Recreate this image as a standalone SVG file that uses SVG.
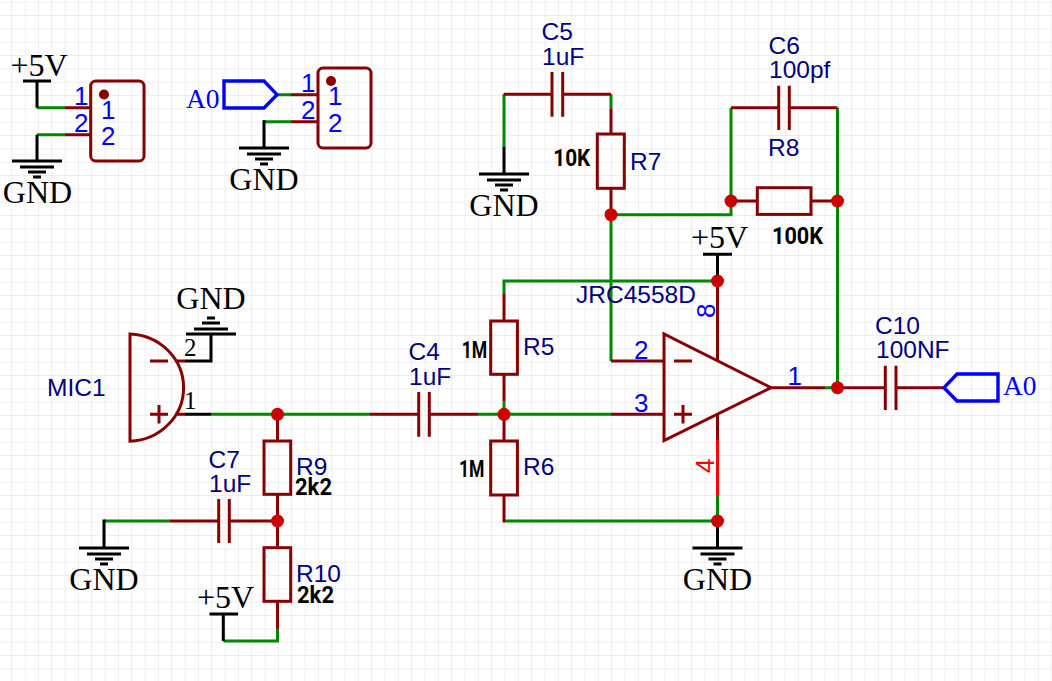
<svg xmlns="http://www.w3.org/2000/svg" width="1052" height="681" viewBox="0 0 1052 681">
<style>
.r{stroke:#880000;stroke-width:3;fill:none}
.g{stroke:#008800;stroke-width:3;fill:none}
.k{stroke:#000;stroke-width:3;fill:none}
.b{stroke:#0000ff;stroke-width:3.4;fill:none}
.e{stroke:#ff0000;stroke-width:3;fill:none}
.j{fill:#cc0000}
.pwr{font-family:"Liberation Serif",serif;font-size:32px;fill:#000}
.mc{text-anchor:middle}
.net{font-family:"Liberation Serif",serif;font-size:27.500px;fill:#0000ff}
.lab{font-family:"Liberation Sans",sans-serif;font-size:24.500px;fill:#000080}
.pin{font-family:"Liberation Sans",sans-serif;font-size:26px;fill:#0000ff}
.pk{font-family:"Liberation Serif",serif;font-size:25px;fill:#000}
.val{font-family:Roboto,"Liberation Sans",sans-serif;font-weight:700;font-size:24px;fill:#000}
</style>
<defs>
<pattern id="grid" x="11.3" y="1.7" width="13.333" height="13.333" patternUnits="userSpaceOnUse">
<path d="M0 0V13.333M0 0H13.333" fill="none" stroke="#e8e8e8" stroke-width="1.5"/>
</pattern>
<g id="gnd"><path class="k" d="M-25 0H25M-17 6H17M-9 11H9M-4 16H4"/></g>
<g id="gndup"><path class="k" d="M-25 0H25M-17 -5H17M-9 -11H9M-4 -16H4"/></g>
</defs>
<rect width="1052" height="681" fill="#fff"/>
<rect width="1052" height="681" fill="url(#grid)"/>
<g id="connectors">
<path class="g" d="M37 107.7H65M37 134.7H65"/>
<path class="k" d="M37 81V107.7M37 134.7V161"/>
<path class="g" d="M277 94.7H291M264 121.7H291"/>
<path class="k" d="M264 120.2V148"/>
<path class="k" d="M185 361H211V334M185 414.3H211"/>
<path class="g" d="M211 414.3H370M478 414.3H611"/>
<path class="g" d="M504 294V281H717.5M504 401.5V414.3M504 521H717.5"/>
<path class="r" d="M504 294V321M504 374.3V401.5M504 414.3V441M504 495V521H505"/>
<path class="r" d="M277.5 414.3V441M277.5 494.3V548M277.5 601.3V629"/>
<path class="g" d="M277.5 629V641H223.3"/>
<path class="k" d="M223.3 641V614"/>
<path class="g" d="M104 521H170"/>
<path class="k" d="M104 519.500V548"/>
<path class="g" d="M504 94.3V146.7M611 94.3V108.3"/>
<path class="k" d="M504 146.7V174"/>
<path class="r" d="M611 108.3V134M611 188.3V214.7"/>
<path class="g" d="M611 214.7V361M611 214.7H731V107.7M837.5 107.7V387.7M825 387.7H837.5"/>
<path class="k" d="M717.5 254V281"/>
<path class="r" d="M717.5 281V361M771 387.7H825M611 361H664M611 414.3H664M717.5 414.3V440"/>
<path class="e" d="M717.5 440V495"/>
<path class="g" d="M717.5 495V521"/>
<path class="k" d="M717.5 521V548"/>
</g>
<g id="P1">
<rect class="r" x="90.7" y="81" width="53.3" height="80" rx="5"/>
<circle cx="104" cy="94.5" r="5" fill="#880000"/>
<path class="r" d="M65 107.7H90.7M65 134.7H90.7"/>
<text class="pin" x="74" y="105">1</text><text class="pin" x="74" y="131.700">2</text>
<text class="pin" x="101" y="118.700">1</text><text class="pin" x="101" y="145">2</text>
</g>
<g id="P1-power">
<text class="pwr" x="10.500" y="75.700">+5V</text>
<path class="k" d="M23 81H51"/>
<use href="#gnd" x="37" y="161"/>
<text class="pwr mc" x="37.500" y="203">GND</text>
</g>
<g id="P2">
<rect class="r" x="318" y="68" width="53" height="80" rx="5"/>
<circle cx="331" cy="81" r="5" fill="#880000"/>
<path class="r" d="M291 94.7H318M291 121.7H318"/>
<text class="pin" x="301" y="91.700">1</text><text class="pin" x="301" y="119">2</text>
<text class="pin" x="328" y="105">1</text><text class="pin" x="328" y="132">2</text>
</g>
<g id="P2-net">
<path class="b" d="M224 81H264L277 94.7L264 108H224Z"/>
<text class="net" x="186" y="107.700">A0</text>
<use href="#gnd" x="264" y="148"/>
<text class="pwr mc" x="264" y="190">GND</text>
</g>
<g id="MIC1">
<path class="r" d="M130 334V441.3A56 53.7 0 0 0 130 334Z"/>
<path class="r" d="M150 361H168M150 414.3H168M159 405V423.5M175 361H185M175 414.3H185"/>
<text class="lab" x="47" y="395.700">MIC1</text>
<text class="pk" x="184" y="356">2</text><text class="pk" x="184" y="409">1</text>
<use href="#gndup" x="211" y="334"/>
<text class="pwr mc" x="211" y="309">GND</text>
</g>
<g id="C4">
<path class="r" d="M370 414.3H418.7M429.3 414.3H478M418.7 392V436.7M429.3 392V436.7"/>
<text class="lab" x="408.500" y="360">C4</text><text class="lab" x="409" y="385">1uF</text>
</g>
<g id="C5">
<path class="r" d="M503.700 94.300H552M562.700 94.300H611M552 72V116.700M562.700 72V116.700"/>
<text class="lab" x="541.500" y="40">C5</text><text class="lab" x="542" y="65">1uF</text>
</g>
<g id="C6">
<path class="r" d="M731 107.700H778.700M789.300 107.700H837.500M778.700 85.700V130M789.300 85.700V130"/>
<text class="lab" x="768.500" y="54.300">C6</text><text class="lab" x="769" y="78">100pf</text>
</g>
<g id="C7">
<path class="r" d="M170 521H218.700M229.300 521H277.500M218.700 499V543M229.300 499V543"/>
<text class="lab" x="208.500" y="467.700">C7</text><text class="lab" x="209" y="491.700">1uF</text>
</g>
<g id="C10">
<path class="r" d="M837.500 387.700H885.300M896 387.700H944M885.300 365.700V410M896 365.700V410"/>
<text class="lab" x="875" y="334.300">C10</text><text class="lab" x="876" y="358.300">100NF</text>
</g>
<g id="R5">
<rect class="r" x="490.700" y="321" width="26.700" height="53.300"/>
<text class="lab" x="523" y="355">R5</text>
<text class="val" x="461.700" y="357.700" textLength="25.500" lengthAdjust="spacingAndGlyphs">1M</text>
</g>
<g id="R6">
<rect class="r" x="490.700" y="441" width="26.700" height="54"/>
<text class="lab" x="523" y="475">R6</text>
<text class="val" x="459" y="477" textLength="25.500" lengthAdjust="spacingAndGlyphs">1M</text>
</g>
<g id="R7">
<rect class="r" x="597.300" y="134" width="27" height="54.300"/>
<text class="lab" x="630" y="170">R7</text>
<text class="val" x="553.300" y="166" textLength="37" lengthAdjust="spacingAndGlyphs">10K</text>
</g>
<g id="R8">
<rect class="r" x="757.300" y="187.700" width="53.700" height="26.700"/>
<path class="r" d="M731 201H757.300M811 201H837.500"/>
<text class="lab" x="768" y="155.700">R8</text>
<text class="val" x="772" y="244" textLength="51" lengthAdjust="spacingAndGlyphs">100K</text>
</g>
<g id="R9">
<rect class="r" x="264" y="441" width="26.700" height="53.300"/>
<text class="lab" x="296" y="475">R9</text>
<text class="val" x="295" y="495" textLength="37" lengthAdjust="spacingAndGlyphs">2k2</text>
</g>
<g id="R10">
<rect class="r" x="264" y="547.700" width="26.700" height="53.600"/>
<text class="lab" x="296" y="582">R10</text>
<text class="val" x="297" y="603" textLength="37" lengthAdjust="spacingAndGlyphs">2k2</text>
</g>
<g id="U1">
<path class="r" d="M664 334V440.700L771 387.700Z" stroke-linejoin="miter"/>
<path class="r" d="M674 361H692M674 414.300H692M683 405V423.500"/>
<text class="lab" x="576" y="302.700">JRC4558D</text>
<text class="pin" x="634" y="359">2</text><text class="pin" x="634" y="411.700">3</text>
<text class="pin" x="787.500" y="385">1</text>
<text class="pin mc" transform="translate(715 310.700) rotate(-90)">8</text>
<text class="pin mc" transform="translate(714 465.700) rotate(-90)" style="fill:#ff0000">4</text>
</g>
<g id="power-symbols">
<use href="#gnd" x="104" y="548"/><text class="pwr mc" x="104" y="590">GND</text>
<use href="#gnd" x="504" y="174"/><text class="pwr mc" x="504" y="215.700">GND</text>
<use href="#gnd" x="717.500" y="548"/><text class="pwr mc" x="717.500" y="590">GND</text>
<path class="k" d="M703 254.300H732M209.500 614H238"/>
<text class="pwr" x="691" y="247.700">+5V</text>
<text class="pwr" x="197" y="608">+5V</text>
</g>
<g id="A0-out">
<path class="b" d="M944 387.700L957 374H998V401H957Z"/>
<text class="net" x="1003" y="395">A0</text>
</g>
<g id="junctions" class="j">
<circle cx="277.500" cy="414.300" r="6.500"/><circle cx="277.500" cy="521" r="6.500"/>
<circle cx="504" cy="414.300" r="6.500"/><circle cx="611" cy="214.700" r="6.500"/>
<circle cx="731" cy="201" r="6.500"/><circle cx="837.500" cy="201" r="6.500"/>
<circle cx="717.500" cy="281" r="6.500"/><circle cx="837.500" cy="387.700" r="6.500"/>
<circle cx="717.500" cy="521" r="6.500"/>
</g>
</svg>
